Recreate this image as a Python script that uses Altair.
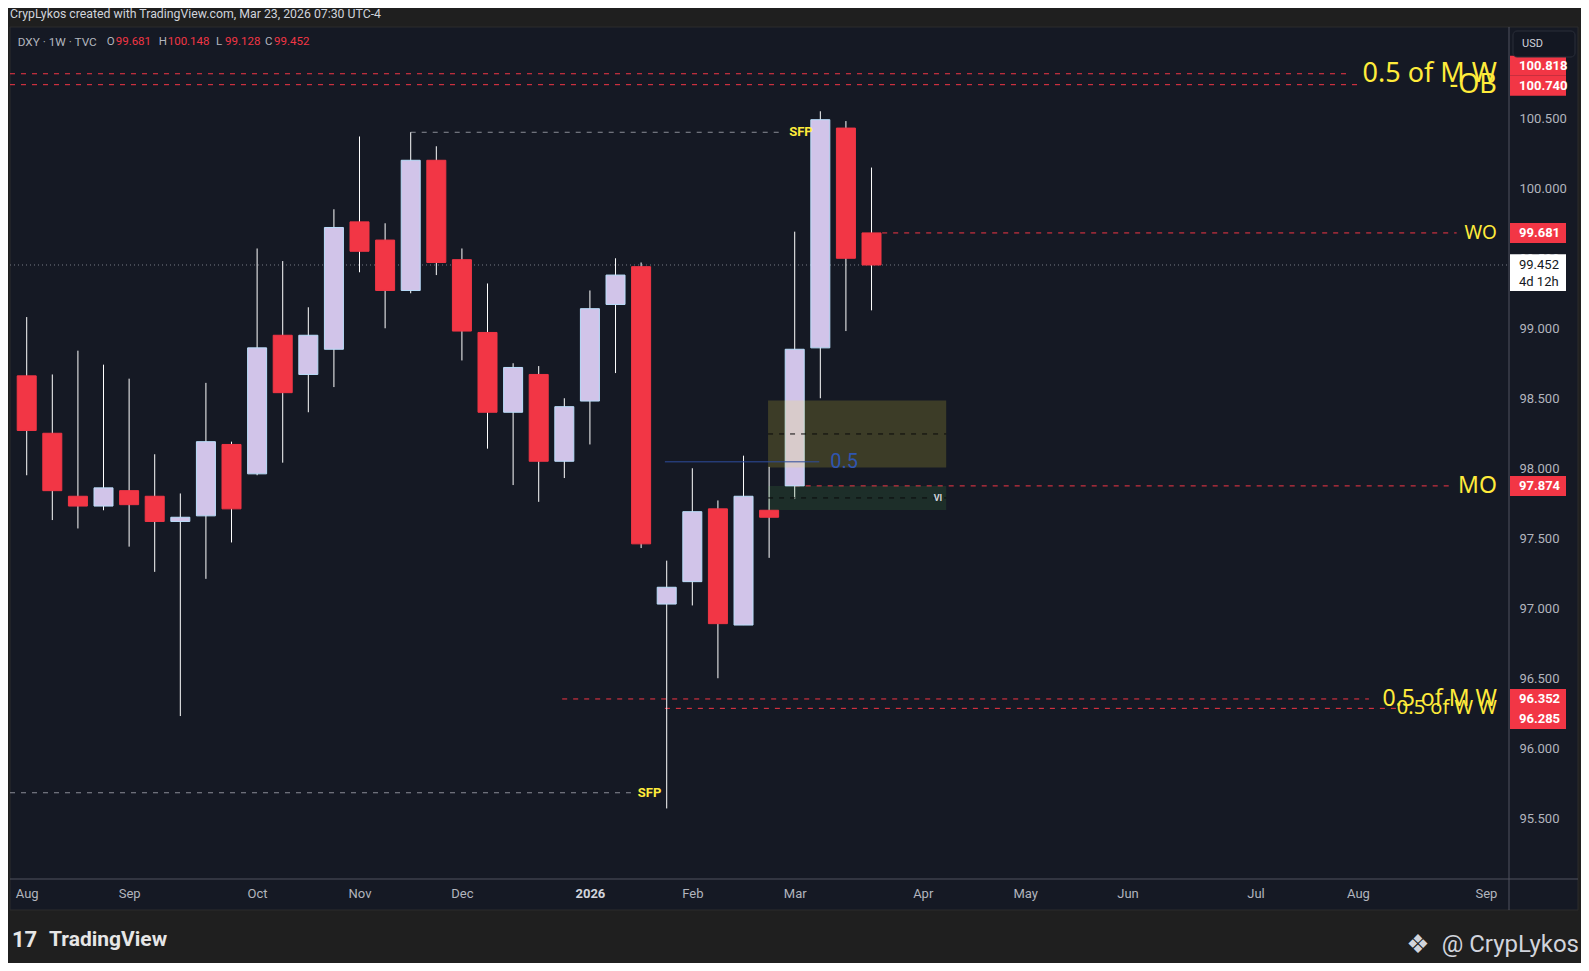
import altair as alt
import pandas as pd

# ---------------- data ----------------
weeks = ["2025-08-04", "2025-08-11", "2025-08-18", "2025-08-25", "2025-09-01", "2025-09-08",
         "2025-09-15", "2025-09-22", "2025-09-29", "2025-10-06", "2025-10-13", "2025-10-20",
         "2025-10-27", "2025-11-03", "2025-11-10", "2025-11-17", "2025-11-24", "2025-12-01",
         "2025-12-08", "2025-12-15", "2025-12-22", "2025-12-29", "2026-01-05", "2026-01-12",
         "2026-01-19", "2026-01-26", "2026-02-02", "2026-02-09", "2026-02-16", "2026-02-23",
         "2026-03-02", "2026-03-09", "2026-03-16", "2026-03-23"]
opens = [98.66, 98.25, 97.80, 97.73, 97.84, 97.80, 97.62, 97.66, 98.17, 97.96, 98.95, 98.67,
         98.85, 99.76, 99.63, 99.27, 100.20, 99.49, 98.97, 98.40, 98.67, 98.05, 98.48, 99.17,
         99.44, 97.03, 97.19, 97.71, 96.88, 97.70, 97.874, 98.86, 100.43, 99.681]
highs = [99.08, 98.67, 98.84, 98.74, 98.64, 98.10, 97.82, 98.61, 98.19, 99.57, 99.48, 99.15,
         99.85, 100.37, 99.75, 100.40, 100.30, 99.57, 99.32, 98.75, 98.73, 98.50, 99.27, 99.50,
         99.47, 97.34, 98.00, 97.77, 98.09, 98.01, 99.69, 100.55, 100.48, 100.148]
lows = [97.95, 97.63, 97.57, 97.70, 97.44, 97.26, 96.23, 97.21, 97.47, 97.95, 98.04, 98.40,
        98.58, 99.40, 99.00, 99.25, 99.38, 98.77, 98.14, 97.88, 97.76, 97.93, 98.17, 98.68,
        97.43, 95.57, 97.02, 96.50, 96.88, 97.36, 97.78, 98.50, 98.98, 99.128]
closes = [98.27, 97.84, 97.73, 97.86, 97.74, 97.62, 97.65, 98.19, 97.71, 98.86, 98.54, 98.95,
          99.72, 99.55, 99.27, 100.20, 99.47, 98.98, 98.40, 98.72, 98.05, 98.44, 99.14, 99.38,
          97.46, 97.15, 97.69, 96.89, 97.80, 97.65, 98.85, 100.49, 99.50, 99.452]

# horizontal levels drawn on the chart
level_labels = ["0.5 of M W", "-OB", "WO", "MO", "0.5 of M W", "0.5 of W W"]
level_prices = [100.818, 100.740, 99.681, 97.874, 96.352, 96.285]
level_starts = ["2025-07-30T10:20:00Z", "2025-07-30T10:20:00Z", "2026-03-25T22:00:00Z",
                "2026-03-02T00:00:00Z", "2025-12-28T10:00:00Z", "2026-01-25T12:00:00Z"]
level_ends = ["2026-07-31T00:00:00Z", "2026-08-04T00:00:00Z", "2026-08-30T00:00:00Z",
              "2026-08-28T00:00:00Z", "2026-08-06T00:00:00Z", "2026-08-14T00:00:00Z"]
level_label_at = "2026-09-10T00:00:00Z"

sfp_prices = [100.40, 95.682]
sfp_starts = ["2025-11-17T00:00:00Z", "2025-07-30T10:20:00Z"]
sfp_ends = ["2026-02-26T17:00:00Z", "2026-01-16T05:00:00Z"]
sfp_label_at = ["2026-02-28T12:00:00Z", "2026-01-18T02:00:00Z"]

box_labels = ["", "VI"]
box_tops = [98.484, 97.874]
box_bottoms = [98.006, 97.702]
box_start = "2026-02-22T17:00:00Z"
box_end = "2026-04-12T10:00:00Z"

fib_price = 98.046
fib_start = "2026-01-25T12:00:00Z"
fib_end = "2026-03-08T17:00:00Z"
fib_label_at = "2026-03-11T17:00:00Z"

month_ticks = ["2025-08-04", "2025-09-01", "2025-10-06", "2025-11-03", "2025-12-01",
               "2026-01-05", "2026-02-02", "2026-03-02", "2026-04-06", "2026-05-04",
               "2026-06-01", "2026-07-06", "2026-08-03", "2026-09-07"]
price_ticks = [95.5, 96.0, 96.5, 97.0, 97.5, 98.0, 98.5, 99.0, 99.5, 100.0, 100.5]
x_range = ["2025-07-30T10:20:00Z", "2026-09-13T07:26:00Z"]
y_range = [95.066, 101.152]

# ---------------- styles ----------------
W, H = 1499, 852
PANE = "#151924"
OUTER = "#1f1f1f"
RED = "#F23645"
LAV = "#D1C4E9"
LAVB = "#BBDEFB"
YEL = "#FFEB3B"
AXC = "#B2B5BE"
SEP = "#50535E"
level_sizes = [27, 27, 19, 23, 23, 20]
tag_shift = {100.818: -8, 100.740: 1, 96.285: 10.6}


def ms(s):
    t = pd.Timestamp(s)
    if t.tzinfo is not None:
        t = t.tz_convert("UTC").tz_localize(None)
    return int(t.value // 10**6)


xscale = alt.Scale(type="utc", domain=[ms(v) for v in x_range], padding=0, nice=False)
yscale = alt.Scale(domain=y_range, nice=False, zero=False, padding=0)
jan = "utcmonth(datum.value) == 0"
xaxis = alt.Axis(values=[ms(v) for v in month_ticks], title=None, grid=False, ticks=False, domain=False,
                 labelExpr=f"{jan} ? utcFormat(datum.value, '%Y') : utcFormat(datum.value, '%b')",
                 labelFontWeight={"condition": {"test": jan, "value": "bold"}, "value": "normal"},
                 labelColor={"condition": {"test": jan, "value": "#D1D4DC"}, "value": AXC},
                 labelFont="Roboto", labelFontSize=13, labelPadding=8, labelOverlap=False, labelFlush=False)
yaxis = alt.Axis(orient="right", values=price_ticks, format=".3f", title=None, grid=False, ticks=False,
                 domain=False, labelColor=AXC, labelFont="Roboto", labelFontSize=13, labelPadding=10,
                 labelAlign="left", labelBaseline="middle", labelOverlap=False, labelFlush=False)


def X(f):
    return alt.X(f, type="temporal", scale=xscale, axis=xaxis)


def Y(f):
    return alt.Y(f, type="quantitative", scale=yscale, axis=yaxis)


one = pd.DataFrame({"k": [0]})


def vrect(x, x2, y, y2, **kw):
    return alt.Chart(one).mark_rect(**kw).encode(x=alt.value(x), x2=alt.value(x2), y=alt.value(y), y2=alt.value(y2))


def vtext(txt, x, y, **kw):
    kw.setdefault("baseline", "middle")
    kw.setdefault("align", "left")
    kw.setdefault("font", "Roboto")
    return alt.Chart(one).mark_text(text=txt, **kw).encode(x=alt.value(x), y=alt.value(y))


layers = []

# outer frame bands (outside the chart pane)
layers.append(vrect(-2, 1571, -19, 0, fill=OUTER))
layers.append(vrect(-2, 1571, 883, 936, fill=OUTER))
layers.append(vrect(1568, 1571, -19, 936, fill=OUTER))
layers.append(vrect(-2, 0, -19, 936, fill=OUTER))
layers.append(vrect(0, 1568, 0, 883, filled=False, stroke="#2c2c2c", strokeWidth=1))

# current price dotted line
cur = pd.DataFrame({"p": [closes[-1]]})
layers.append(alt.Chart(cur).mark_rule(color="#787B86", strokeDash=[1, 3], strokeWidth=1)
              .encode(y=Y("p"), x=alt.value(0), x2=alt.value(W)))

# SFP lines
sfp = pd.DataFrame({"p": sfp_prices, "s": sfp_starts, "e": sfp_ends, "t": ["SFP", "SFP"], "at": sfp_label_at})
layers.append(alt.Chart(sfp).mark_rule(color="#8A8D96", strokeDash=[5, 6], strokeWidth=1)
              .encode(x=X("s"), x2="e:T", y=Y("p")))

# level lines
lv = pd.DataFrame({"p": level_prices, "s": level_starts, "e": level_ends, "t": level_labels})
layers.append(alt.Chart(lv).mark_rule(color=RED, strokeDash=[5, 6], strokeWidth=1)
              .encode(x=X("s"), x2="e:T", y=Y("p")))

# candles
df = pd.DataFrame({"date": weeks, "open": opens, "high": highs, "low": lows, "close": closes})
df["lo"] = df[["open", "close"]].min(axis=1)
df["hi"] = df[["open", "close"]].max(axis=1)
df["dir"] = ["up" if c >= o else "down" for o, c in zip(opens, closes)]
base = alt.Chart(df)
layers.append(base.mark_rule(color="#FFFFFF", strokeWidth=1).encode(x=X("date"), y=Y("low"), y2="high:Q"))
layers.append(base.mark_bar(size=19, strokeWidth=1).encode(
    x=X("date"), y=Y("lo"), y2="hi:Q",
    fill=alt.Fill("dir:N", scale=alt.Scale(domain=["up", "down"], range=[LAV, RED]), legend=None),
    stroke=alt.Stroke("dir:N", scale=alt.Scale(domain=["up", "down"], range=[LAVB, RED]), legend=None)))

# SFP labels (drawn over the candles)
layers.append(alt.Chart(sfp).mark_text(color=YEL, font="Roboto", fontSize=13, fontWeight="bold",
                                       align="left", baseline="middle")
              .encode(x=X("at"), y=Y("p"), text="t:N"))

# zones
bx = pd.DataFrame({"top": box_tops, "bot": box_bottoms, "s": [box_start] * 2, "e": [box_end] * 2,
                   "t": box_labels})
bx["mid"] = (bx["top"] + bx["bot"]) / 2
layers.append(alt.Chart(bx.iloc[[0]]).mark_rect(fill=YEL, opacity=0.17)
              .encode(x=X("s"), x2="e:T", y=Y("top"), y2="bot:Q"))
layers.append(alt.Chart(bx.iloc[[1]]).mark_rect(fill="#4CAF50", opacity=0.14)
              .encode(x=X("s"), x2="e:T", y=Y("top"), y2="bot:Q"))
layers.append(alt.Chart(bx).mark_rule(color="#0a0a0a", strokeDash=[5, 6], strokeWidth=1)
              .encode(x=X("s"), x2="e:T", y=Y("mid")))
layers.append(alt.Chart(bx.iloc[[1]]).mark_text(color="#D1D4DC", font="Roboto", fontSize=9, fontWeight="bold",
                                                align="right", baseline="middle", dx=-4)
              .encode(x=X("e"), y=Y("mid"), text="t:N"))

# fib 0.5
fb = pd.DataFrame({"p": [fib_price], "s": [fib_start], "e": [fib_end], "at": [fib_label_at], "t": ["0.5"]})
layers.append(alt.Chart(fb).mark_rule(color="#2E4C9E", strokeWidth=1).encode(x=X("s"), x2="e:T", y=Y("p")))
layers.append(alt.Chart(fb).mark_text(color="#2F55B0", font="Roboto", fontSize=20, align="left",
                                      baseline="middle").encode(x=X("at"), y=Y("p"), text="t:N"))

# level labels
for lab, p, fs in zip(level_labels, level_prices, level_sizes):
    d = pd.DataFrame({"p": [p], "at": [level_label_at], "t": [lab]})
    layers.append(alt.Chart(d).mark_text(color=YEL, font="Noto Sans", fontSize=fs, align="right",
                                         baseline="middle").encode(x=X("at"), y=Y("p"), text="t:N"))

# pane separators
layers.append(alt.Chart(one).mark_rule(color=SEP, strokeWidth=1).encode(x=alt.value(0), x2=alt.value(1568), y=alt.value(H)))
layers.append(alt.Chart(one).mark_rule(color=SEP, strokeWidth=1).encode(x=alt.value(W), y=alt.value(0), y2=alt.value(883)))

# price tags on the axis
for p in level_prices:
    off = tag_shift.get(p, 0)
    d = pd.DataFrame({"p": [p], "t": [f"{p:.3f}"]})
    layers.append(alt.Chart(d).mark_rect(fill=RED, yOffset=off - 10, y2Offset=off + 10)
                  .encode(x=alt.value(W + 1), x2=alt.value(W + 57), y=Y("p"), y2="p:Q"))
    layers.append(alt.Chart(d).mark_text(color="#FFFFFF", font="Roboto", fontSize=13, fontWeight="bold",
                                         align="left", baseline="middle", dy=off)
                  .encode(x=alt.value(W + 10), y=Y("p"), text="t:N"))
d = pd.DataFrame({"p": [closes[-1]], "t": [f"{closes[-1]:.3f}"], "c": ["4d 12h"]})
layers.append(alt.Chart(d).mark_rect(fill="#FFFFFF", yOffset=-10.7, y2Offset=26)
              .encode(x=alt.value(W + 1), x2=alt.value(W + 57), y=Y("p"), y2="p:Q"))
layers.append(alt.Chart(d).mark_text(color="#131722", font="Roboto", fontSize=13, align="left",
                                     baseline="middle").encode(x=alt.value(W + 10), y=Y("p"), text="t:N"))
layers.append(alt.Chart(d).mark_text(color="#131722", font="Roboto", fontSize=13, align="left",
                                     baseline="middle", dy=16.7).encode(x=alt.value(W + 10), y=Y("p"), text="c:N"))

# USD button
layers.append(vrect(1503, 1565, 4, 30, fill="#131722", stroke="#2A2E39", strokeWidth=1, cornerRadius=4))
layers.append(vtext("USD", 1512, 17, color="#D1D4DC", fontSize=11))

# header and legend
layers.append(vtext("CrypLykos created with TradingView.com, Mar 23, 2026 07:30 UTC-4", 0, -13,
                    color="#D1D4DC", fontSize=12.3))
layers.append(vtext("DXY · 1W · TVC", 7.7, 14.7, color=AXC, fontSize=11.8))
ohlc = [("O", opens[-1], 96.7), ("H", highs[-1], 148.7), ("L", lows[-1], 206), ("C", closes[-1], 255)]
for k, v, xx in ohlc:
    layers.append(vtext(k, xx, 14.7, color=AXC, fontSize=11.5))
    layers.append(vtext(f"{v:.3f}", xx + 9, 14.7, color=RED, fontSize=11.5))

# footer
layers.append(vtext("17", 2, 913, color="#E6E6E6", fontSize=22, fontWeight="bold"))
layers.append(vtext("TradingView", 39, 913, color="#E6E6E6", fontSize=21, fontWeight="bold"))
layers.append(vtext("❖", 1408, 918, color="#D1D4DC", fontSize=26, align="center", font="DejaVu Sans"))
layers.append(vtext("@ CrypLykos", 1569, 918, color="#D1D4DC", fontSize=24, align="right"))

chart = alt.layer(*layers).properties(
    width=W, height=H,
    padding={"left": 2, "top": 19, "right": 72, "bottom": 84},
    autosize=alt.AutoSizeParams(type="none"),
    background=PANE,
).configure_view(stroke=None, fill=None)

chart.save("out.html", embed_options={"renderer": "svg", "actions": False})
